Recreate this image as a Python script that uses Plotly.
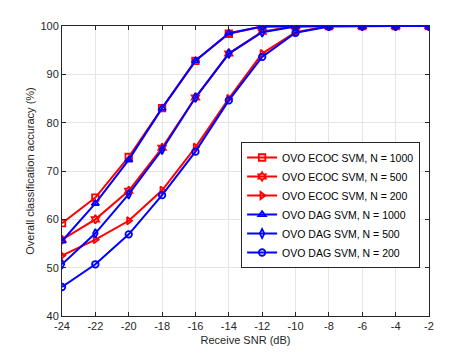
import plotly.graph_objects as go

snr = [-24, -22, -20, -18, -16, -14, -12, -10, -8, -6, -4, -2]

ecoc_1000 = [59.2, 64.5, 72.9, 83.0, 92.8, 98.4, 99.9, 100, 100, 100, 100, 100]
ecoc_500 = [55.8, 60.0, 65.9, 74.8, 85.2, 94.3, 98.8, 100, 100, 100, 100, 100]
ecoc_200 = [52.5, 55.8, 59.7, 66.0, 74.9, 85.0, 94.3, 98.7, 100, 100, 100, 100]
dag_1000 = [55.5, 63.3, 72.3, 83.0, 92.8, 98.5, 99.9, 100, 100, 100, 100, 100]
dag_500 = [50.7, 57.1, 65.2, 74.4, 85.2, 94.3, 98.7, 99.9, 100, 100, 100, 100]
dag_200 = [46.0, 50.7, 56.9, 65.0, 74.0, 84.6, 93.6, 98.6, 99.9, 100, 100, 100]

series = [
    ("OVO ECOC SVM, N = 1000", ecoc_1000, "#ff0000", "square-open"),
    ("OVO ECOC SVM, N = 500", ecoc_500, "#ff0000", "hexagram-open"),
    ("OVO ECOC SVM, N = 200", ecoc_200, "#ff0000", "triangle-right-open"),
    ("OVO DAG SVM, N = 1000", dag_1000, "#0000ff", "triangle-up-open"),
    ("OVO DAG SVM, N = 500", dag_500, "#0000ff", "diamond-tall-open"),
    ("OVO DAG SVM, N = 200", dag_200, "#0000ff", "circle-open"),
]

fig = go.Figure()
for name, vals, col, sym in series:
    fig.add_trace(go.Scatter(
        x=snr, y=vals, name=name, mode="lines+markers",
        line=dict(color=col, width=2),
        marker=dict(symbol=sym, size=6.5, color=col, line=dict(color=col, width=1.8)),
    ))

axis_common = dict(
    showline=True, linecolor="#262626", linewidth=1, mirror="ticks",
    ticks="inside", ticklen=4, tickcolor="#262626", automargin=False,
    showgrid=True, gridcolor="#e5e5e5", gridwidth=1, zeroline=False,
    tickfont=dict(family="Liberation Sans, Arial", size=11, color="#262626"),
)

fig.update_layout(
    width=474, height=355,
    margin=dict(l=54, r=53, t=18, b=47),
    paper_bgcolor="white", plot_bgcolor="white",
    font=dict(family="Liberation Sans, Arial", size=11, color="#262626"),
    xaxis=dict(range=[-24, -2], tickvals=snr, ticktext=[str(v) for v in snr],
               title=dict(text="Receive SNR (dB)", standoff=5,
                          font=dict(size=11, color="#262626")),
               **axis_common),
    yaxis=dict(range=[40, 100], tickvals=[40, 50, 60, 70, 80, 90, 100],
               title=dict(text="Overall classification accuracy (%)", standoff=3,
                          font=dict(size=11, color="#262626")),
               **axis_common),
    legend=dict(x=0.488, y=0.60, xanchor="left", yanchor="top",
                bgcolor="white", bordercolor="#262626", borderwidth=1,
                font=dict(family="Liberation Sans, Arial", size=10.5, color="#000000"),
                tracegroupgap=0, itemwidth=30),
    showlegend=True,
)

fig.write_html("out.html")
